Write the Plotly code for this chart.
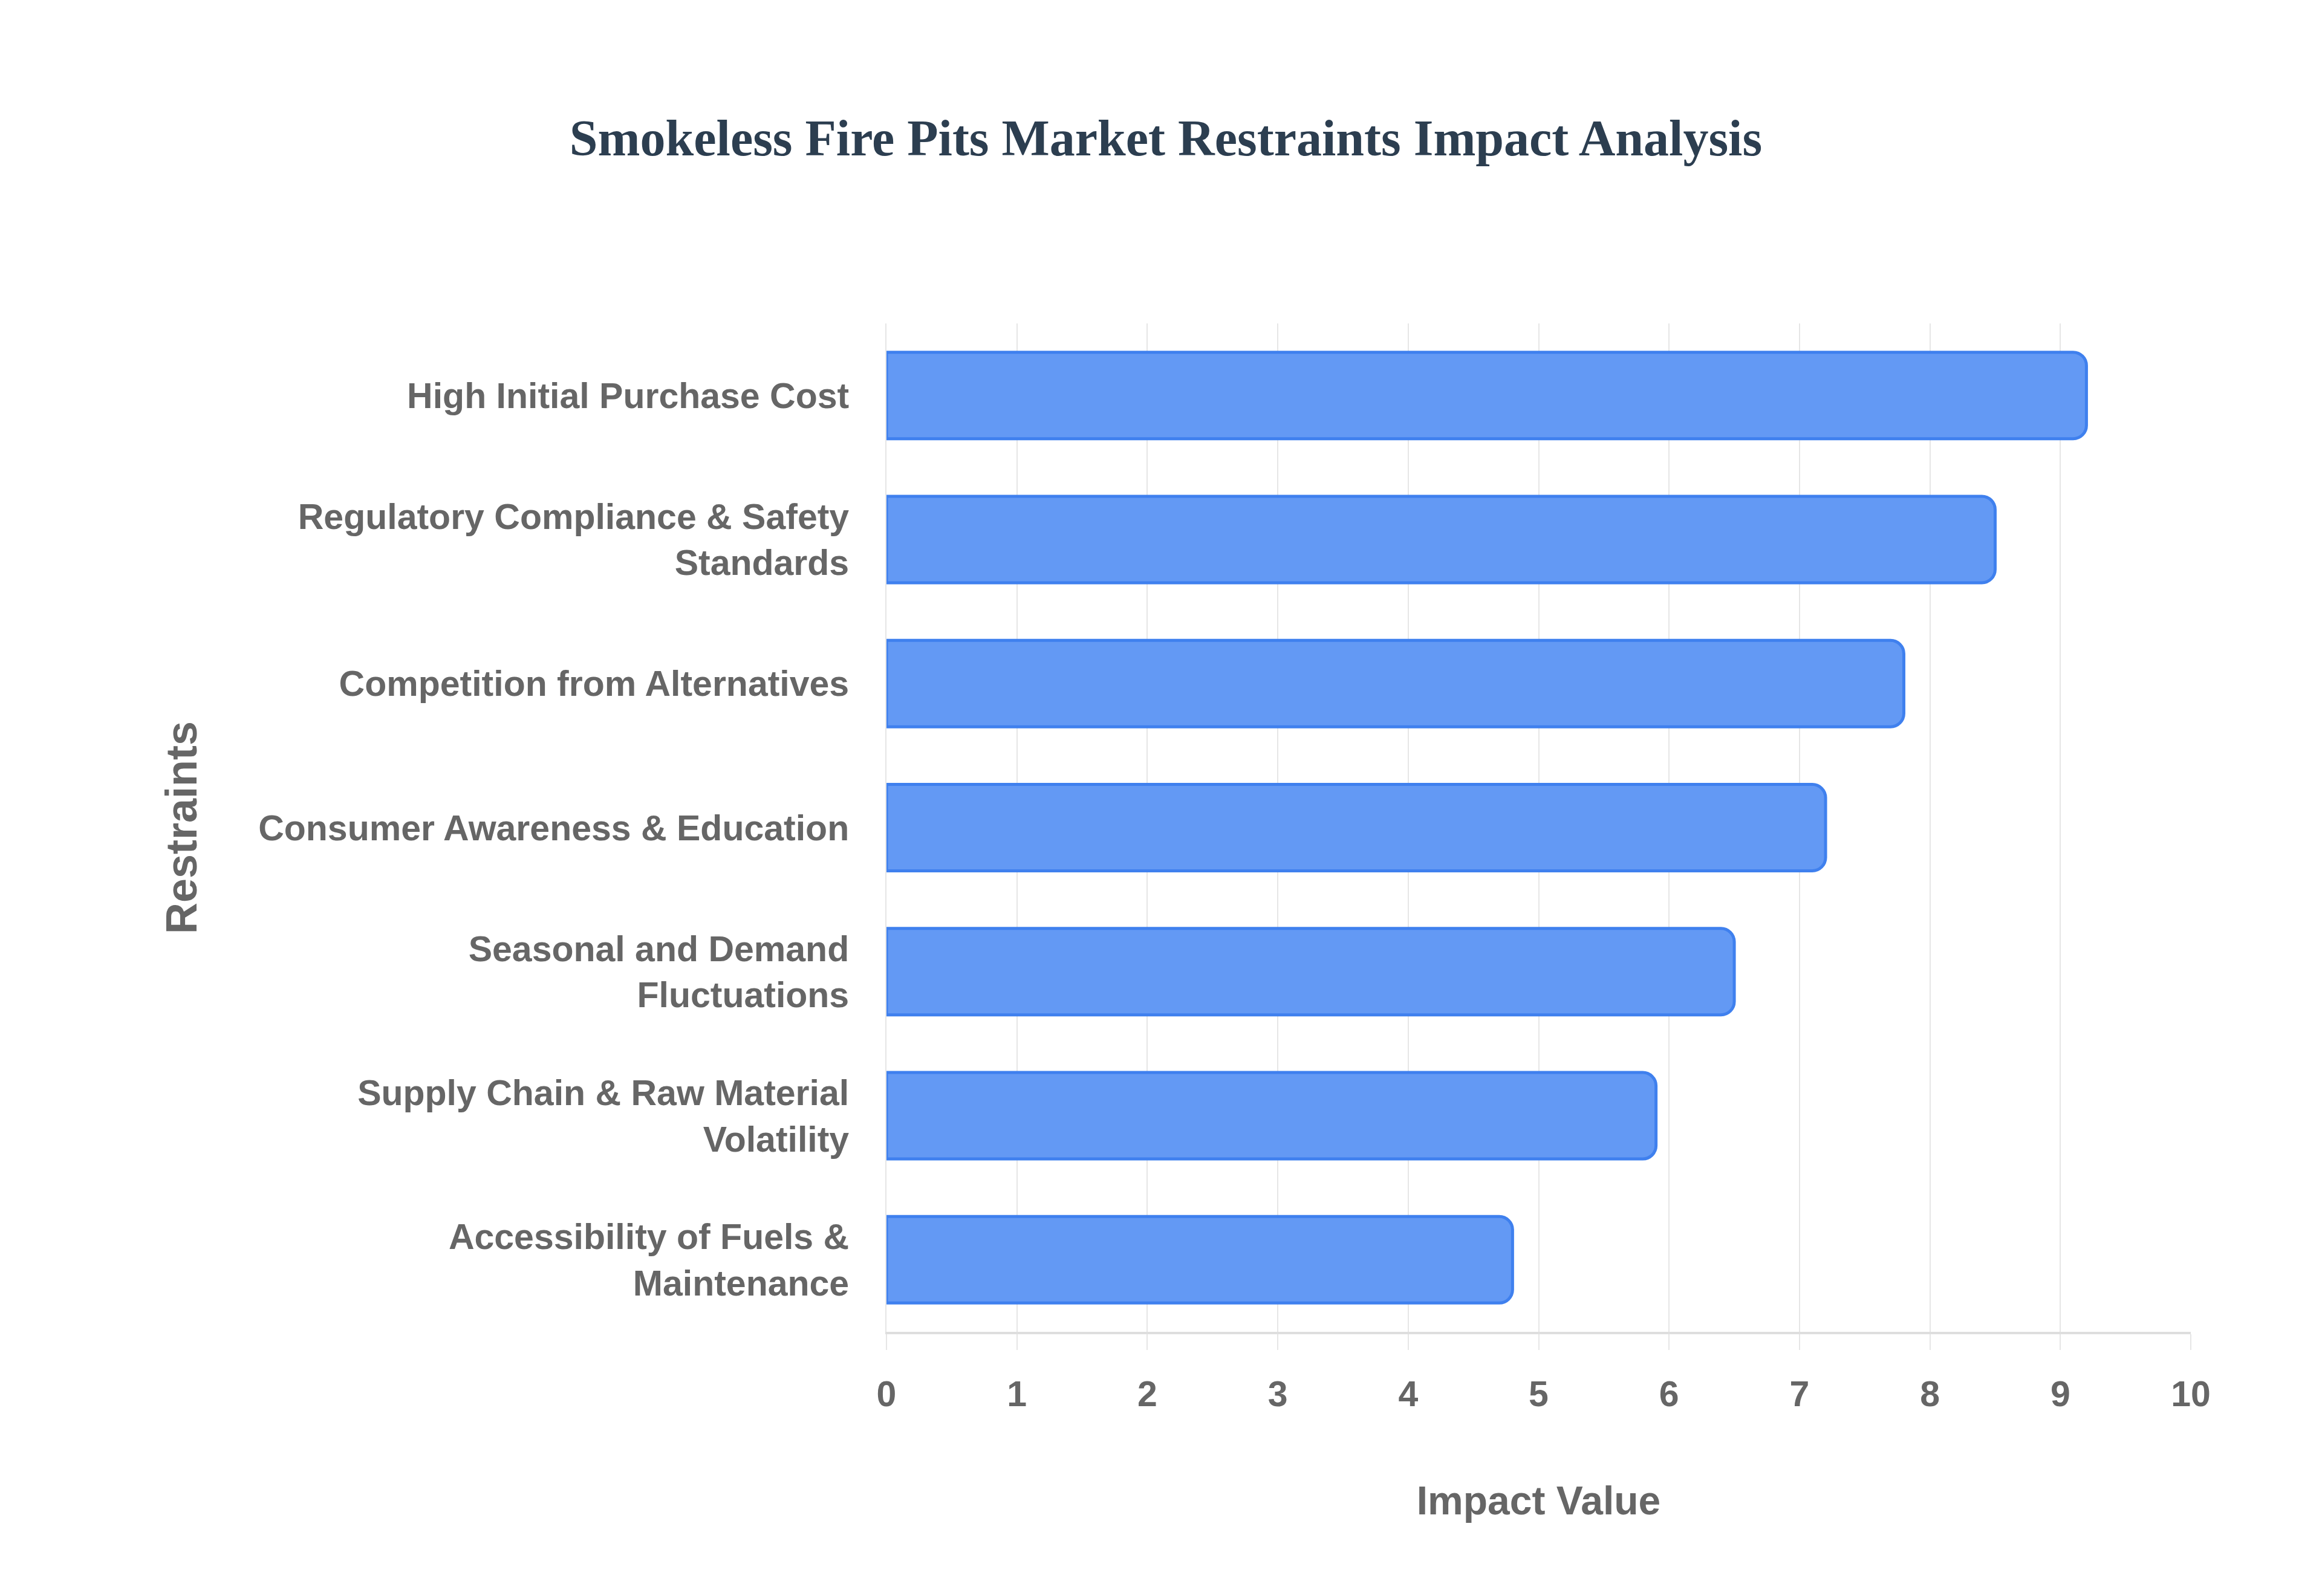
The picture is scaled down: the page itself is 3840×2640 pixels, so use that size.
import plotly.graph_objects as go

categories = [
    "High Initial Purchase Cost",
    "Regulatory Compliance & Safety<br>Standards",
    "Competition from Alternatives",
    "Consumer Awareness & Education",
    "Seasonal and Demand<br>Fluctuations",
    "Supply Chain & Raw Material<br>Volatility",
    "Accessibility of Fuels &<br>Maintenance",
]
impact_values = [9.2, 8.5, 7.8, 7.2, 6.5, 5.9, 4.8]
x_ticks = [0, 1, 2, 3, 4, 5, 6, 7, 8, 9, 10]

W, H = 3840, 2640
LEFT, RIGHT, TOP, BOTTOM = 1458, 225, 527, 445

fig = go.Figure(
    go.Bar(
        y=categories,
        x=impact_values,
        orientation="h",
        marker=dict(
            color="#6399F4",
            line=dict(color="#3F80EE", width=5),
            cornerradius=22,
        ),
        hoverinfo="x+y",
    )
)

sans = "Liberation Sans, Arial, sans-serif"

fig.update_layout(
    width=W,
    height=H,
    paper_bgcolor="white",
    plot_bgcolor="white",
    margin=dict(l=LEFT, r=RIGHT, t=TOP, b=BOTTOM, autoexpand=False),
    bargap=0.4,
    showlegend=False,
    title=dict(
        text="<b>Smokeless Fire Pits Market Restraints Impact Analysis</b>",
        x=0.5,
        xanchor="center",
        y=1 - 220 / H,
        yanchor="middle",
        yref="container",
        font=dict(family="Liberation Serif, Times New Roman, serif", size=84, color="#2C3E50"),
    ),
    xaxis=dict(
        range=[0, 10],
        tickvals=x_ticks,
        ticktext=[str(v) for v in x_ticks],
        showgrid=True,
        gridcolor="#E6E6E6",
        gridwidth=2,
        zeroline=False,
        showline=True,
        linecolor="#DEDEDE",
        linewidth=4,
        ticks="outside",
        ticklen=26,
        tickwidth=2,
        tickcolor="#E6E6E6",
        ticklabelstandoff=22,
        tickfont=dict(family=sans, size=59, color="#666666", weight="bold"),
        title=dict(
            text="<b>Impact Value</b>",
            font=dict(family=sans, size=66, color="#666666"),
            standoff=122,
        ),
        fixedrange=True,
    ),
    yaxis=dict(
        autorange="reversed",
        showgrid=False,
        zeroline=False,
        showline=True,
        linecolor="#E6E6E6",
        linewidth=2,
        ticks="",
        ticklabelstandoff=48,
        tickfont=dict(family=sans, size=59, color="#666666", weight="bold"),
        title=dict(
            text="<b>Restraints</b>",
            font=dict(family=sans, size=72, color="#666666"),
            standoff=78,
        ),
        fixedrange=True,
    ),
)

fig.write_html("out.html")
